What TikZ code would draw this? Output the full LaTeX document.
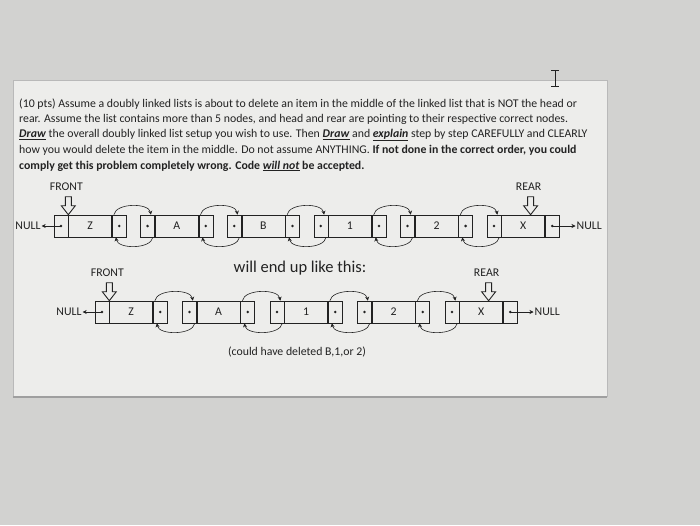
\documentclass[tikz,border=0pt]{standalone}
\usepackage{fontspec}
\setmainfont{Carlito}
\usetikzlibrary{positioning,arrows.meta,calc}
\definecolor{screen}{RGB}{210,210,208}
\definecolor{paper}{RGB}{237,237,235}
\definecolor{ink}{RGB}{34,34,34}
% hollow pointer arrow, tip at #1
\newcommand{\ptrarrow}[1]{\draw[ink, line width=0.9pt, fill=paper] (#1) +(-3,-18) -- +(3,-18) -- +(3,-9) -- +(7,-9) -- +(0,0) -- +(-7,-9) -- +(-3,-9) -- cycle;}
\begin{document}
\begin{tikzpicture}[x=1pt,y=-1pt,font=\fontsize{11.8}{14}\selectfont]
  % Define styles
  \tikzset{
    cell/.style={draw=ink, line width=0.6pt, minimum width=14pt, minimum height=22pt, inner sep=0pt},
    data/.style={cell, minimum width=43pt, text=ink},
    link/.style={ink, line width=0.6pt, -{Stealth[length=4pt,width=4pt]}},
    tag/.style={text=ink, inner sep=1pt}
  }
  % Screen
  \fill[screen] (0,0) rectangle (700,525);
  \useasboundingbox (0,0) rectangle (700,525);
  % Page
  \draw[gray!55, fill=paper] (13,80.5) rectangle (607,396.5);
  \draw[gray!75, line width=1.5pt] (13,397) -- (607,397);
  % Text cursor
  \draw[ink, line width=0.8pt] (551,70) -- (559,70) (555,70) -- (555,86) (551,86) -- (559,86);
  % Question text
  \node[tag, anchor=west] (q1) at (18,104) {(10 pts) Assume a doubly linked lists is about to delete an item in the middle of the linked list that is NOT the head or};
  \node[tag, anchor=west] (q2) at (18,119.5) {rear. Assume the list contains more than 5 nodes, and head and rear are pointing to their respective correct nodes.};
  \node[tag, anchor=west] (q3) at (18,135) {\underline{\textbf{\textit{Draw}}} the overall doubly linked list setup you wish to use. Then \underline{\textbf{\textit{Draw}}} and \underline{\textbf{\textit{explain}}} step by step CAREFULLY and CLEARLY};
  \node[tag, anchor=west] (q4) at (18,150.5) {how you would delete the item in the middle. Do not assume ANYTHING. \textbf{If not done in the correct order, you could}};
  \node[tag, anchor=west] (q5) at (18,166) {\textbf{comply get this problem completely wrong. Code \underline{\textit{will not}} be accepted.}};
  % List before
  \foreach \n/\v [count=\i from 0] in {tZ/Z,tA/A,tB/B,t1/1,t2/2,tX/X} {
    \node[cell] (\n L) at (61+86.6*\i,226) {};
    \node[data, right=0pt of \n L] (\n D) {\v};
    \node[cell, right=0pt of \n D] (\n R) {};
    \fill[ink] (\n L) circle (1.4pt) (\n R) circle (1.4pt);
  }
  % List after
  \foreach \n/\v [count=\i from 0] in {bZ/Z,bA/A,b1/1,b2/2,bX/X} {
    \node[cell] (\n L) at (102+87.5*\i,312) {};
    \node[data, right=0pt of \n L] (\n D) {\v};
    \node[cell, right=0pt of \n D] (\n R) {};
    \fill[ink] (\n L) circle (1.4pt) (\n R) circle (1.4pt);
  }
  % Next and prev links
  \foreach \p/\q in {tZ/tA,tA/tB,tB/t1,t1/t2,t2/tX,bZ/bA,bA/b1,b1/b2,b2/bX} {
    \draw[link] ([xshift=2pt]\p R.north west) .. controls +(2,-12) and +(-2,-12) .. ([xshift=-4pt]\q L.north east);
    \draw[link] ([xshift=-2pt]\q L.south east) .. controls +(-2,12) and +(2,12) .. ([xshift=4pt]\p R.south west);
  }
  % NULL ends
  \node[tag, left=12pt of tZL] (tnullL) {NULL};
  \node[tag, right=16pt of tXR] (tnullR) {NULL};
  \node[tag, left=12pt of bZL] (bnullL) {NULL};
  \node[tag, right=16pt of bXR] (bnullR) {NULL};
  \draw[link] (tZL.center) -- (tnullL.east);
  \draw[link] (tXR.center) -- (tnullR.west);
  \draw[link] (bZL.center) -- (bnullL.east);
  \draw[link] (bXR.center) -- (bnullR.west);
  % FRONT and REAR pointers
  \ptrarrow{tZL.north east}
  \node[tag] (tfront) at ($(tZL.north east)+(-2,-28)$) {FRONT};
  \ptrarrow{$(tXD.north)+(7.5,0)$}
  \node[tag] (trear) at ($(tXD.north)+(5.5,-28)$) {REAR};
  \ptrarrow{bZL.north east}
  \node[tag] (bfront) at ($(bZL.north east)+(-2,-28)$) {FRONT};
  \ptrarrow{$(bXD.north)+(7.5,0)$}
  \node[tag] (brear) at ($(bXD.north)+(5.5,-28)$) {REAR};
  % Captions
  \node[tag, font=\fontsize{16.5}{18}\selectfont] (endup) at (300,268) {will end up like this:};
  \node[tag] (note) at (297,352) {(could have deleted B,1,or 2)};
\end{tikzpicture}
\end{document}
